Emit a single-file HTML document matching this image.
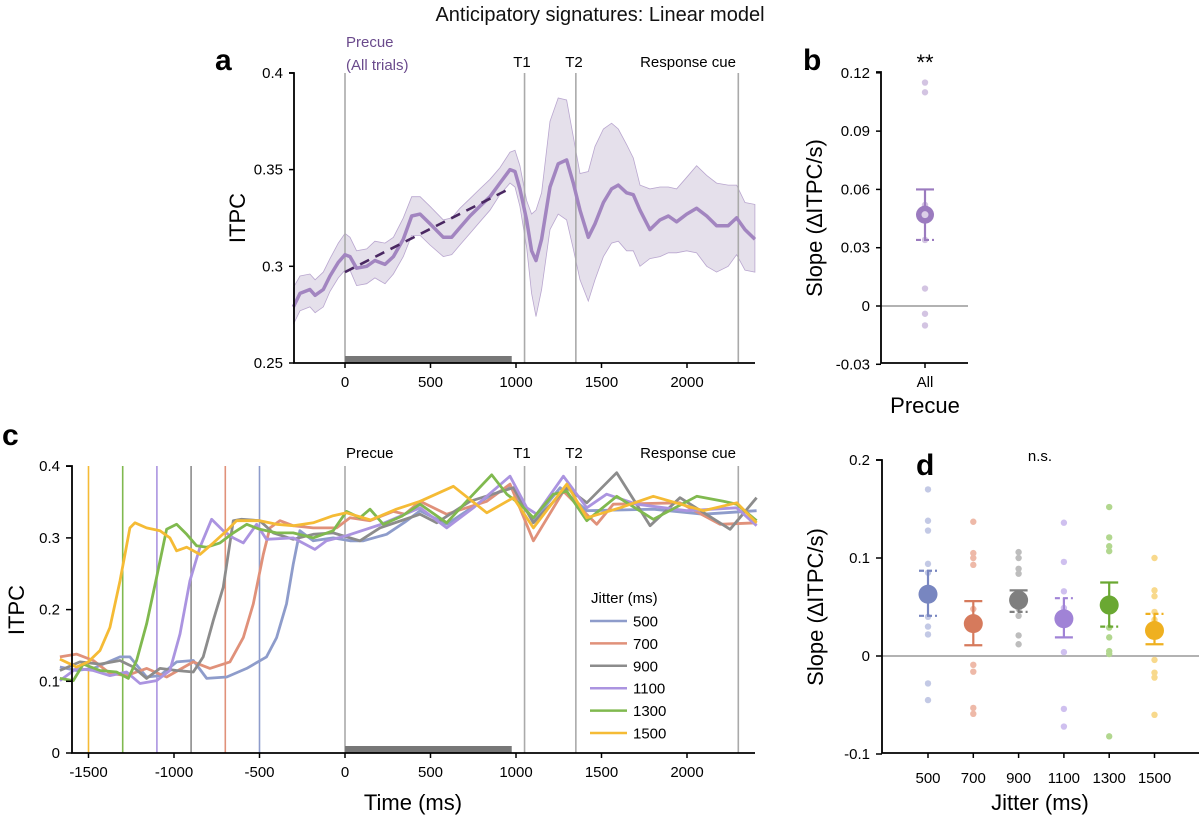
<!DOCTYPE html>
<html><head><meta charset="utf-8"><style>
html,body{margin:0;padding:0;background:#fff;}
svg{display:block;font-family:"Liberation Sans",Arial,sans-serif;}
</style></head><body>
<svg id="fig" width="1200" height="823" viewBox="0 0 1200 823" xmlns="http://www.w3.org/2000/svg">
<text x="600" y="21" font-size="20" text-anchor="middle" fill="#111">Anticipatory signatures: Linear model</text>
<text x="215" y="70" font-size="30" font-weight="bold">a</text>
<text x="803" y="70" font-size="30" font-weight="bold">b</text>
<text x="2" y="445" font-size="30" font-weight="bold">c</text>
<text x="916" y="475" font-size="30" font-weight="bold">d</text>
<g id="ga"></g>
<g id="gb"></g>
<g id="gc"></g>
<g id="gd"></g>
</svg>
<script>
// ---------- Panel a data ----------
const aTime = [-302,-263,-205,-175,-127,-88,-39,0,29,68,127,175,234,283,341,390,439,497,575,624,672,731,789,848,906,965,994,1023,1062,1091,1117,1150,1199,1247,1296,1335,1374,1423,1462,1511,1559,1598,1647,1686,1725,1783,1842,1891,1939,1998,2056,2115,2173,2241,2290,2339,2397];
const aMean = [0.279,0.286,0.288,0.285,0.288,0.295,0.302,0.306,0.305,0.299,0.300,0.303,0.301,0.305,0.314,0.326,0.327,0.322,0.315,0.315,0.320,0.326,0.331,0.336,0.343,0.350,0.349,0.340,0.324,0.308,0.303,0.314,0.341,0.353,0.355,0.343,0.329,0.315,0.322,0.333,0.340,0.342,0.338,0.337,0.329,0.319,0.324,0.326,0.323,0.327,0.330,0.326,0.321,0.321,0.325,0.319,0.314];
const aErrUp = [0.010,0.009,0.008,0.008,0.009,0.009,0.010,0.011,0.010,0.009,0.009,0.010,0.011,0.010,0.011,0.010,0.009,0.009,0.009,0.010,0.010,0.009,0.009,0.009,0.008,0.009,0.011,0.012,0.010,0.019,0.026,0.024,0.034,0.034,0.031,0.024,0.019,0.034,0.040,0.038,0.034,0.029,0.025,0.019,0.013,0.021,0.017,0.015,0.017,0.019,0.022,0.021,0.022,0.021,0.017,0.014,0.018];
const aErrDn = [0.009,0.009,0.009,0.009,0.009,0.008,0.008,0.008,0.007,0.009,0.009,0.009,0.010,0.009,0.009,0.010,0.011,0.011,0.010,0.009,0.009,0.009,0.008,0.007,0.006,0.007,0.008,0.009,0.014,0.022,0.029,0.026,0.022,0.026,0.031,0.034,0.036,0.033,0.029,0.028,0.028,0.029,0.030,0.029,0.029,0.015,0.019,0.019,0.016,0.019,0.023,0.026,0.024,0.021,0.019,0.021,0.017];
const aFitTime = [0,960];
const aFitVal = [0.297,0.340];
const aYTicks = [0.25,0.3,0.35,0.4];
const aYTickLabels = ["0.25","0.3","0.35","0.4"];
const aXTicks = [0,500,1000,1500,2000];
const eventTimes = [0,1050,1350,2300];
const barRange = [0,975];

// ---------- Panel b data ----------
const bMean = [0.047];
const bCapHi = [0.060];
const bCapLo = [0.034];
const bDots = [0.115,0.110,0.052,0.048,0.034,0.009,-0.004,-0.010];
const bYTicks = [-0.03,0,0.03,0.06,0.09,0.12];

// ---------- Panel c data ----------
const jitters = [500,700,900,1100,1300,1500];
const cColors = ["#8e9ccb","#e0917a","#8c8c8c","#ab94e0","#80b94f","#f5bb35"];
const cT500 = [-1667,-1570,-1472,-1316,-1258,-1160,-1082,-985,-887,-809,-692,-575,-459,-400,-342,-303,-264,-186,-69,29,107,243,350,439,595,829,965,1102,1258,1414,1803,2096,2407];
const cV500 = [0.120,0.115,0.118,0.134,0.134,0.106,0.108,0.127,0.129,0.104,0.106,0.118,0.134,0.161,0.208,0.263,0.310,0.296,0.300,0.296,0.296,0.305,0.322,0.338,0.319,0.356,0.372,0.324,0.370,0.338,0.340,0.333,0.338];
const cT700 = [-1667,-1570,-1472,-1375,-1277,-1160,-1043,-887,-790,-673,-595,-536,-478,-439,-380,-303,-186,-49,29,146,282,350,439,595,829,965,1102,1277,1472,1569,1959,2193,2407];
const cV700 = [0.134,0.138,0.129,0.111,0.108,0.118,0.106,0.127,0.118,0.127,0.161,0.208,0.277,0.314,0.324,0.317,0.314,0.314,0.328,0.324,0.337,0.333,0.351,0.333,0.351,0.375,0.296,0.365,0.319,0.347,0.349,0.319,0.321];
const cT900 = [-1667,-1550,-1433,-1316,-1238,-1160,-1082,-985,-887,-829,-770,-712,-653,-605,-498,-420,-303,-186,-69,87,204,340,439,536,731,985,1102,1297,1414,1589,1784,1959,2252,2407];
const cV900 = [0.115,0.127,0.124,0.129,0.120,0.104,0.118,0.115,0.113,0.134,0.185,0.231,0.324,0.326,0.324,0.307,0.298,0.305,0.307,0.296,0.314,0.325,0.333,0.321,0.351,0.370,0.321,0.370,0.349,0.391,0.317,0.356,0.312,0.356];
const cT1100 = [-1667,-1570,-1472,-1375,-1277,-1199,-1102,-1024,-965,-907,-848,-780,-712,-653,-595,-517,-459,-303,-176,-108,9,200,439,595,751,965,1063,1121,1277,1414,1530,1706,1998,2290,2407];
const cV1100 = [0.101,0.118,0.115,0.108,0.113,0.097,0.101,0.115,0.166,0.240,0.287,0.326,0.310,0.300,0.293,0.319,0.298,0.300,0.284,0.296,0.303,0.318,0.342,0.314,0.342,0.386,0.342,0.333,0.386,0.342,0.361,0.347,0.338,0.342,0.317];
const cT1300 = [-1667,-1589,-1531,-1433,-1336,-1267,-1219,-1160,-1102,-1043,-985,-926,-868,-809,-731,-653,-575,-498,-400,-303,-186,-69,9,87,146,224,330,439,595,731,858,946,1024,1102,1219,1297,1414,1589,1803,2057,2213,2291,2407];
const cV1300 = [0.104,0.101,0.124,0.115,0.113,0.104,0.129,0.180,0.245,0.312,0.319,0.305,0.289,0.287,0.293,0.307,0.319,0.312,0.307,0.307,0.300,0.310,0.337,0.328,0.340,0.319,0.330,0.347,0.321,0.356,0.388,0.361,0.347,0.328,0.361,0.365,0.324,0.358,0.326,0.358,0.351,0.347,0.324];
const cT1500 = [-1667,-1570,-1501,-1433,-1375,-1316,-1258,-1228,-1160,-1082,-1024,-985,-926,-848,-770,-692,-634,-498,-400,-303,-186,-69,9,150,300,439,634,829,985,1102,1297,1414,1609,1803,2096,2291,2407];
const cV1500 = [0.131,0.120,0.127,0.143,0.175,0.240,0.314,0.321,0.314,0.310,0.300,0.282,0.287,0.277,0.293,0.310,0.324,0.324,0.319,0.317,0.321,0.331,0.335,0.325,0.340,0.351,0.372,0.335,0.356,0.314,0.375,0.328,0.342,0.358,0.338,0.349,0.321];
const cYTicks = [0,0.1,0.2,0.3,0.4];
const cXTicks = [-1500,-1000,-500,0,500,1000,1500,2000];

// ---------- Panel d data ----------
const dCats = ["500","700","900","1100","1300","1500"];
const dMean = [0.063,0.033,0.057,0.038,0.052,0.026];
const dCapHi = [0.087,0.056,0.067,0.059,0.075,0.043];
const dCapLo = [0.041,0.011,0.045,0.019,0.030,0.012];
const dHiDashed = [1,0,0,1,0,1];
const dLoDashed = [1,0,1,0,1,0];
const dDots500 = [0.170,0.138,0.128,0.094,0.085,0.040,0.030,0.022,-0.028,-0.045];
const dDots700 = [0.137,0.105,0.100,0.093,0.048,-0.009,-0.016,-0.053,-0.059];
const dDots900 = [0.106,0.100,0.089,0.084,0.048,0.041,0.021,0.012];
const dDots1100 = [0.136,0.096,0.066,0.049,0.004,-0.054,-0.072];
const dDots1300 = [0.152,0.121,0.112,0.107,0.057,0.029,0.019,0.005,0.002,-0.082];
const dDots1500 = [0.100,0.067,0.061,0.045,0.037,-0.004,-0.017,-0.022,-0.060];
const dYTicks = [-0.1,0,0.1,0.2];
const dYTickLabels = ["-0.1","0","0.1","0.2"];

// ---------- helpers ----------
const NS = "http://www.w3.org/2000/svg";
function mk(parent, tag, attrs, txt){
  const e = document.createElementNS(NS, tag);
  for (const k in attrs) e.setAttribute(k, attrs[k]);
  if (txt !== undefined) e.textContent = txt;
  parent.appendChild(e);
  return e;
}
const xT = t => 345 + t * 0.171;           // shared time axis for a & c
const ya = v => 363 - (v - 0.25) * 1934;
const yb = v => 306 - v * 1943;
const yc = v => 753 - v * 717;
const yd = v => 656 - v * 980;
const xd = i => 928 + i * 45.3;
const pathOf = (xs, ys) => xs.map((x,i)=>(i?'L':'M')+x.toFixed(1)+' '+ys[i].toFixed(1)).join(' ');

// ---------- Panel a ----------
const ga = document.getElementById('ga');
let el;
{
  const up = aTime.map((t,i)=>[xT(t), ya(aMean[i]+aErrUp[i])]);
  const dn = aTime.map((t,i)=>[xT(t), ya(aMean[i]-aErrDn[i])]).reverse();
  const pts = up.concat(dn).map(p=>p[0].toFixed(1)+','+p[1].toFixed(1)).join(' ');
  el = mk(ga,'polygon',{points:pts, fill:'#e5e0eb', stroke:'#b9a6cf', 'stroke-width':0.8});
  
  
  eventTimes.forEach((t,i)=>{
    el = mk(ga,'line',{x1:xT(t),x2:xT(t),y1:73,y2:363,stroke:'#aaa','stroke-width':1.6});
    
    
  });
  el = mk(ga,'rect',{x:xT(barRange[0]),y:356,width:xT(barRange[1])-xT(barRange[0]),height:7,fill:'#777'});
  
  
  el = mk(ga,'path',{d:pathOf(aTime.map(xT), aMean.map(ya)), fill:'none', stroke:'#a285c0','stroke-width':3.5,'stroke-linejoin':'round'});
  
  
  el = mk(ga,'line',{x1:xT(aFitTime[0]),y1:ya(aFitVal[0]),x2:xT(aFitTime[1]),y2:ya(aFitVal[1]),stroke:'#4a2862','stroke-width':2.6,'stroke-dasharray':'10,7'});
  
  
  mk(ga,'path',{d:'M289 73 H294 V363 H755',fill:'none',stroke:'#000','stroke-width':1.8});
  aYTicks.forEach((v,i)=>{
    mk(ga,'line',{x1:289,x2:294,y1:ya(v),y2:ya(v),stroke:'#000','stroke-width':1.5});
    el = mk(ga,'text',{x:283,y:ya(v)+5,'font-size':15,'text-anchor':'end'},aYTickLabels[i]);
    
    
  });
  aXTicks.forEach(t=>{
    mk(ga,'line',{x1:xT(t),x2:xT(t),y1:363,y2:368,stroke:'#000','stroke-width':1.5});
    el = mk(ga,'text',{x:xT(t),y:387,'font-size':15,'text-anchor':'middle'},String(t));
    
    
  });
  el = mk(ga,'text',{x:0,y:0,'font-size':22,'text-anchor':'middle',transform:'translate(245,218) rotate(-90)'},'ITPC');
  
  
  el = mk(ga,'text',{x:346,y:47,'font-size':15,fill:'#6a4a8c'},'Precue');
  
  
  el = mk(ga,'text',{x:346,y:70,'font-size':15,fill:'#6a4a8c'},'(All trials)');
  
  
  el = mk(ga,'text',{x:522,y:67,'font-size':15,'text-anchor':'middle'},'T1');
  
  
  el = mk(ga,'text',{x:574,y:67,'font-size':15,'text-anchor':'middle'},'T2');
  
  
  el = mk(ga,'text',{x:736,y:67,'font-size':15,'text-anchor':'end'},'Response cue');
  
  
}

// ---------- Panel b ----------
const gb = document.getElementById('gb');
{
  const bx = 925;
  mk(gb,'line',{x1:881,x2:968,y1:yb(0),y2:yb(0),stroke:'#999','stroke-width':1.5});
  bDots.forEach(v=>{
    el = mk(gb,'circle',{cx:bx,cy:yb(v),r:3.2,fill:'#d3c4e2'});
    
    
  });
  mk(gb,'line',{x1:bx,x2:bx,y1:yb(bCapHi[0]),y2:yb(bCapLo[0]),stroke:'#9b7bbf','stroke-width':2.2});
  mk(gb,'line',{x1:bx-9,x2:bx+9,y1:yb(bCapHi[0]),y2:yb(bCapHi[0]),stroke:'#9b7bbf','stroke-width':2.2});
  mk(gb,'line',{x1:bx-9,x2:bx+9,y1:yb(bCapLo[0]),y2:yb(bCapLo[0]),stroke:'#9b7bbf','stroke-width':2.2,'stroke-dasharray':'5,3'});
  el = mk(gb,'circle',{cx:bx,cy:yb(bMean[0]),r:9,fill:'#9b7bbf'});
  
  
  mk(gb,'circle',{cx:bx,cy:yb(bMean[0]),r:3.5,fill:'#dccfe8'});
  mk(gb,'path',{d:'M876 72 H881 V363 H968',fill:'none',stroke:'#000','stroke-width':1.8});
  bYTicks.forEach(v=>{
    const y = yb(v);
    mk(gb,'line',{x1:876,x2:881,y1:y,y2:y,stroke:'#000','stroke-width':1.5});
    el = mk(gb,'text',{x:870,y:y+5,'font-size':15,'text-anchor':'end'},v===0?'0':v.toFixed(2));
    
    
  });
  mk(gb,'line',{x1:bx,x2:bx,y1:363,y2:368,stroke:'#000','stroke-width':1.5});
  el = mk(gb,'text',{x:bx,y:787,'font-size':15,'text-anchor':'middle'},'All');
  el = mk(gb,'text',{x:bx,y:387,'font-size':15,'text-anchor':'middle'},'All');
  
  
  gb.removeChild(gb.children[gb.children.length-2]);
  el = mk(gb,'text',{x:bx,y:413,'font-size':22,'text-anchor':'middle'},'Precue');
  
  
  el = mk(gb,'text',{x:0,y:0,'font-size':22,'text-anchor':'middle',transform:'translate(822,218) rotate(-90)'},'Slope (\u2206ITPC/s)');
  
  
  el = mk(gb,'text',{x:bx,y:70,'font-size':22,'text-anchor':'middle'},'**');
  
  
}

// ---------- Panel c ----------
const gc = document.getElementById('gc');
{
  const cTs = [cT500,cT700,cT900,cT1100,cT1300,cT1500];
  const cVs = [cV500,cV700,cV900,cV1100,cV1300,cV1500];
  jitters.forEach((j,i)=>{
    el = mk(gc,'line',{x1:xT(-j),x2:xT(-j),y1:466,y2:753,stroke:cColors[i],'stroke-width':1.6});
    
    
  });
  eventTimes.forEach(t=>{
    el = mk(gc,'line',{x1:xT(t),x2:xT(t),y1:466,y2:753,stroke:'#aaa','stroke-width':1.6});
    
    
  });
  el = mk(gc,'rect',{x:xT(barRange[0]),y:746,width:xT(barRange[1])-xT(barRange[0]),height:7,fill:'#777'});
  
  
  jitters.forEach((j,i)=>{
    el = mk(gc,'path',{d:pathOf(cTs[i].map(xT), cVs[i].map(yc)),fill:'none',stroke:cColors[i],'stroke-width':2.8,'stroke-linejoin':'round'});
    
    
  });
  mk(gc,'path',{d:'M66 466 H72 V753 H755',fill:'none',stroke:'#000','stroke-width':1.8});
  cYTicks.forEach(v=>{
    mk(gc,'line',{x1:66,x2:72,y1:yc(v),y2:yc(v),stroke:'#000','stroke-width':1.5});
    el = mk(gc,'text',{x:60,y:yc(v)+5,'font-size':15,'text-anchor':'end'},v===0?'0':v.toFixed(1));
    
    
  });
  cXTicks.forEach(t=>{
    mk(gc,'line',{x1:xT(t),x2:xT(t),y1:753,y2:758,stroke:'#000','stroke-width':1.5});
    el = mk(gc,'text',{x:xT(t),y:777,'font-size':15,'text-anchor':'middle'},String(t));
    
    
  });
  el = mk(gc,'text',{x:413,y:810,'font-size':22,'text-anchor':'middle'},'Time (ms)');
  
  
  el = mk(gc,'text',{x:0,y:0,'font-size':22,'text-anchor':'middle',transform:'translate(24,610) rotate(-90)'},'ITPC');
  
  
  el = mk(gc,'text',{x:346,y:458,'font-size':15},'Precue');
  
  
  el = mk(gc,'text',{x:522,y:458,'font-size':15,'text-anchor':'middle'},'T1');
  
  
  el = mk(gc,'text',{x:574,y:458,'font-size':15,'text-anchor':'middle'},'T2');
  
  
  el = mk(gc,'text',{x:736,y:458,'font-size':15,'text-anchor':'end'},'Response cue');
  
  
  el = mk(gc,'text',{x:591,y:603,'font-size':15},'Jitter (ms)');
  
  
  jitters.forEach((j,i)=>{
    const y = 621 + i*22.4;
    el = mk(gc,'line',{x1:590,x2:627,y1:y,y2:y,stroke:cColors[i],'stroke-width':2.5});
    
    
    el = mk(gc,'text',{x:633,y:y+5.5,'font-size':15},String(j));
    
    
  });
}

// ---------- Panel d ----------
const gd = document.getElementById('gd');
{
  const dMeanCol = ["#7886c0","#d67a5c","#7f7f7f","#a083d6","#6aa832","#efb020"];
  const dDotCol = ["#c3c9e5","#eeb9a8","#bdbdbd","#cfc0ef","#b2d78f","#f8d98c"];
  const dDots = [dDots500,dDots700,dDots900,dDots1100,dDots1300,dDots1500];
  mk(gd,'line',{x1:882,x2:1199,y1:yd(0),y2:yd(0),stroke:'#999','stroke-width':1.5});
  dCats.forEach((c,i)=>{
    const x = xd(i);
    dDots[i].forEach(v=>{
      el = mk(gd,'circle',{cx:x,cy:yd(v),r:3.2,fill:dDotCol[i]});
      
      
    });
    mk(gd,'line',{x1:x,x2:x,y1:yd(dCapHi[i]),y2:yd(dCapLo[i]),stroke:dMeanCol[i],'stroke-width':2.2});
    mk(gd,'line',{x1:x-9,x2:x+9,y1:yd(dCapHi[i]),y2:yd(dCapHi[i]),stroke:dMeanCol[i],'stroke-width':2.2,'stroke-dasharray':dHiDashed[i]?'5,3':'none'});
    mk(gd,'line',{x1:x-9,x2:x+9,y1:yd(dCapLo[i]),y2:yd(dCapLo[i]),stroke:dMeanCol[i],'stroke-width':2.2,'stroke-dasharray':dLoDashed[i]?'5,3':'none'});
    el = mk(gd,'circle',{cx:x,cy:yd(dMean[i]),r:9.5,fill:dMeanCol[i]});
    
    
    mk(gd,'line',{x1:x,x2:x,y1:753,y2:758,stroke:'#000','stroke-width':1.5});
    el = mk(gd,'text',{x:x,y:783,'font-size':15,'text-anchor':'middle'},c);
    
    
  });
  mk(gd,'path',{d:'M876 460 H882 V753 H1199',fill:'none',stroke:'#000','stroke-width':1.8});
  dYTicks.forEach((v,i)=>{
    mk(gd,'line',{x1:876,x2:882,y1:yd(v),y2:yd(v),stroke:'#000','stroke-width':1.5});
    el = mk(gd,'text',{x:870,y:yd(v)+5,'font-size':15,'text-anchor':'end'},dYTickLabels[i]);
    
    
  });
  el = mk(gd,'text',{x:1040,y:810,'font-size':22,'text-anchor':'middle'},'Jitter (ms)');
  
  
  el = mk(gd,'text',{x:0,y:0,'font-size':22,'text-anchor':'middle',transform:'translate(823,607) rotate(-90)'},'Slope (\u2206ITPC/s)');
  
  
  el = mk(gd,'text',{x:1040,y:461,'font-size':15,'text-anchor':'middle'},'n.s.');
  
  
}
</script>
</body></html>
